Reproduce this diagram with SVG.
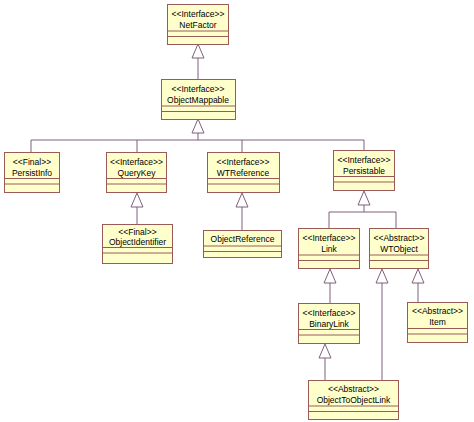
<svg xmlns="http://www.w3.org/2000/svg" width="474" height="422" viewBox="0 0 474 422">
<defs>
<style>
.bg{fill:#ffffff}
.box rect{fill:#ffffcc;stroke:#9a5a5a;stroke-width:1}
.box line{stroke:#9a5a5a;stroke-width:1}
.box text{font-family:"Liberation Sans",Arial,sans-serif;font-size:8.5px;fill:#000;text-anchor:middle}
.conn line,.conn polyline{stroke:#80607a;stroke-width:1;fill:none}
.conn polygon{fill:#ffffff;stroke:#80607a;stroke-width:1}
</style>
</defs>
<rect class="bg" x="0" y="0" width="474" height="422"/>
<g class="conn">
<line x1="198" y1="58" x2="198" y2="79"/>
<polygon points="198,44 192,58 204,58"/>
<line x1="198" y1="133" x2="198" y2="140"/>
<polygon points="198,119 192,133 204,133"/>
<polyline points="31,152 31,140 364,140 364,150"/>
<line x1="137" y1="140" x2="137" y2="152"/>
<line x1="242" y1="140" x2="242" y2="152"/>
<line x1="137" y1="207" x2="137" y2="224"/>
<polygon points="137,193 131,207 143,207"/>
<line x1="242" y1="207" x2="242" y2="230"/>
<polygon points="242,193 236,207 248,207"/>
<line x1="364" y1="205" x2="364" y2="212"/>
<polygon points="364,191 358,205 370,205"/>
<polyline points="329,228 329,212 396,212 396,228"/>
<line x1="330" y1="283" x2="330" y2="303"/>
<polygon points="330,269 324,283 336,283"/>
<line x1="382" y1="283" x2="382" y2="380"/>
<polygon points="382,269 376,283 388,283"/>
<line x1="418" y1="283" x2="418" y2="302"/>
<polygon points="418,269 412,283 424,283"/>
<line x1="325" y1="358" x2="325" y2="380"/>
<polygon points="325,344 319,358 331,358"/>
</g>
<g id="NetFactor" class="box">
<rect x="167.5" y="4.5" width="61" height="40"/>
<line x1="167.5" y1="31" x2="228.5" y2="31"/>
<line x1="167.5" y1="36.5" x2="228.5" y2="36.5"/>
<text x="198" y="17">&lt;&lt;Interface&gt;&gt;</text>
<text x="198" y="27.5">NetFactor</text>
</g>
<g id="ObjectMappable" class="box">
<rect x="161.5" y="79.5" width="74" height="40"/>
<line x1="161.5" y1="106" x2="235.5" y2="106"/>
<line x1="161.5" y1="111.5" x2="235.5" y2="111.5"/>
<text x="198" y="92">&lt;&lt;Interface&gt;&gt;</text>
<text x="198" y="102.5">ObjectMappable</text>
</g>
<g id="PersistInfo" class="box">
<rect x="4.5" y="152.5" width="55" height="40"/>
<line x1="4.5" y1="178.5" x2="59.5" y2="178.5"/>
<line x1="4.5" y1="184" x2="59.5" y2="184"/>
<text x="32" y="165">&lt;&lt;Final&gt;&gt;</text>
<text x="32" y="175.5">PersistInfo</text>
</g>
<g id="QueryKey" class="box">
<rect x="106.5" y="152.5" width="60" height="40"/>
<line x1="106.5" y1="178.5" x2="166.5" y2="178.5"/>
<line x1="106.5" y1="184" x2="166.5" y2="184"/>
<text x="136.5" y="165">&lt;&lt;Interface&gt;&gt;</text>
<text x="136.5" y="175.5">QueryKey</text>
</g>
<g id="WTReference" class="box">
<rect x="207.5" y="152.5" width="72" height="40"/>
<line x1="207.5" y1="178.5" x2="279.5" y2="178.5"/>
<line x1="207.5" y1="184" x2="279.5" y2="184"/>
<text x="243" y="165">&lt;&lt;Interface&gt;&gt;</text>
<text x="243" y="175.5">WTReference</text>
</g>
<g id="Persistable" class="box">
<rect x="333.5" y="150.5" width="61" height="40"/>
<line x1="333.5" y1="176.5" x2="394.5" y2="176.5"/>
<line x1="333.5" y1="182" x2="394.5" y2="182"/>
<text x="364" y="163">&lt;&lt;Interface&gt;&gt;</text>
<text x="364" y="173.5">Persistable</text>
</g>
<g id="ObjectIdentifier" class="box">
<rect x="102.5" y="224.5" width="70" height="39"/>
<line x1="102.5" y1="247.5" x2="172.5" y2="247.5"/>
<line x1="102.5" y1="253" x2="172.5" y2="253"/>
<text x="137.5" y="235">&lt;&lt;Final&gt;&gt;</text>
<text x="137.5" y="245">ObjectIdentifier</text>
</g>
<g id="ObjectReference" class="box">
<rect x="203.5" y="230.5" width="78" height="27"/>
<line x1="203.5" y1="246" x2="281.5" y2="246"/>
<line x1="203.5" y1="251.5" x2="281.5" y2="251.5"/>
<text x="242.5" y="241.5">ObjectReference</text>
</g>
<g id="Link" class="box">
<rect x="298.5" y="228.5" width="61" height="40"/>
<line x1="298.5" y1="255" x2="359.5" y2="255"/>
<line x1="298.5" y1="260.5" x2="359.5" y2="260.5"/>
<text x="329" y="241">&lt;&lt;Interface&gt;&gt;</text>
<text x="329" y="251.5">Link</text>
</g>
<g id="WTObject" class="box">
<rect x="369.5" y="228.5" width="59" height="40"/>
<line x1="369.5" y1="255" x2="428.5" y2="255"/>
<line x1="369.5" y1="260.5" x2="428.5" y2="260.5"/>
<text x="399" y="241">&lt;&lt;Abstract&gt;&gt;</text>
<text x="399" y="251.5">WTObject</text>
</g>
<g id="BinaryLink" class="box">
<rect x="298.5" y="303.5" width="61" height="40"/>
<line x1="298.5" y1="329.5" x2="359.5" y2="329.5"/>
<line x1="298.5" y1="335" x2="359.5" y2="335"/>
<text x="329" y="316">&lt;&lt;Interface&gt;&gt;</text>
<text x="329" y="326.5">BinaryLink</text>
</g>
<g id="Item" class="box">
<rect x="407.5" y="302.5" width="60" height="40"/>
<line x1="407.5" y1="328.5" x2="467.5" y2="328.5"/>
<line x1="407.5" y1="334" x2="467.5" y2="334"/>
<text x="437.5" y="313.5">&lt;&lt;Abstract&gt;&gt;</text>
<text x="437.5" y="324.5">Item</text>
</g>
<g id="ObjectToObjectLink" class="box">
<rect x="308.5" y="380.5" width="90" height="39"/>
<line x1="308.5" y1="406" x2="398.5" y2="406"/>
<line x1="308.5" y1="411.5" x2="398.5" y2="411.5"/>
<text x="353.5" y="392">&lt;&lt;Abstract&gt;&gt;</text>
<text x="353.5" y="403">ObjectToObjectLink</text>
</g>
</svg>
